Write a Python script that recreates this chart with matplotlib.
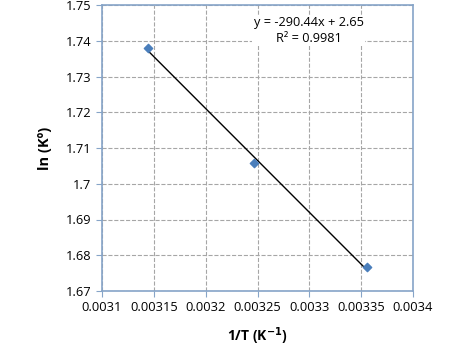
import matplotlib.pyplot as plt
import numpy as np

plt.rcParams['font.family'] = ['Open Sans', 'DejaVu Sans']

# data
inv_T = [0.0031447, 0.0032468, 0.0033557]
ln_K = [1.7379, 1.7059, 1.6766]

xticks = [0.0031, 0.00315, 0.0032, 0.00325, 0.0033, 0.00335, 0.0034]
xtick_labels = ['0.0031', '0.00315', '0.0032', '0.00325', '0.0033', '0.00335', '0.0034']
yticks = [1.67, 1.68, 1.69, 1.70, 1.71, 1.72, 1.73, 1.74, 1.75]
ytick_labels = ['1.67', '1.68', '1.69', '1.7', '1.71', '1.72', '1.73', '1.74', '1.75']

fig = plt.figure(figsize=(4.74, 3.53), dpi=100)
ax = fig.add_axes([102/474, 1 - 291/353, 311/474, 286/353])

slope, icpt = np.polyfit(inv_T, ln_K, 1)
xx = np.array([inv_T[0], inv_T[-1]])
ax.plot(xx, slope * xx + icpt, color='black', lw=1.0, zorder=3)
ax.scatter(inv_T, ln_K, marker='D', s=18, color='#4a7ebb', zorder=4)

ax.set_xlim(0.0031, 0.0034)
ax.set_ylim(1.67, 1.75)
ax.set_xticks(xticks)
ax.set_xticklabels(xtick_labels)
ax.set_yticks(yticks)
ax.set_yticklabels(ytick_labels)
ax.tick_params(labelsize=9.3, length=4, color='#86a4c8', direction='out')
ax.grid(True, ls='--', color='#a6a6a6', lw=0.8)
ax.set_axisbelow(True)
for s in ax.spines.values():
    s.set_color('#86a4c8')
    s.set_linewidth(1.2)

ax.text(0.665, 0.96, 'y = -290.44x + 2.65\nR² = 0.9981', transform=ax.transAxes,
        ha='center', va='top', fontsize=9.2, linespacing=1.25,
        bbox=dict(facecolor='white', edgecolor='none', pad=1))

ax.set_xlabel('1/T (K$^{\\mathbf{-1}}$)', fontsize=10, fontweight='bold', labelpad=8)
ax.set_ylabel('ln (Kº)', fontsize=10.5, fontweight='bold', labelpad=10)

fig.savefig('out.png', dpi=100)
